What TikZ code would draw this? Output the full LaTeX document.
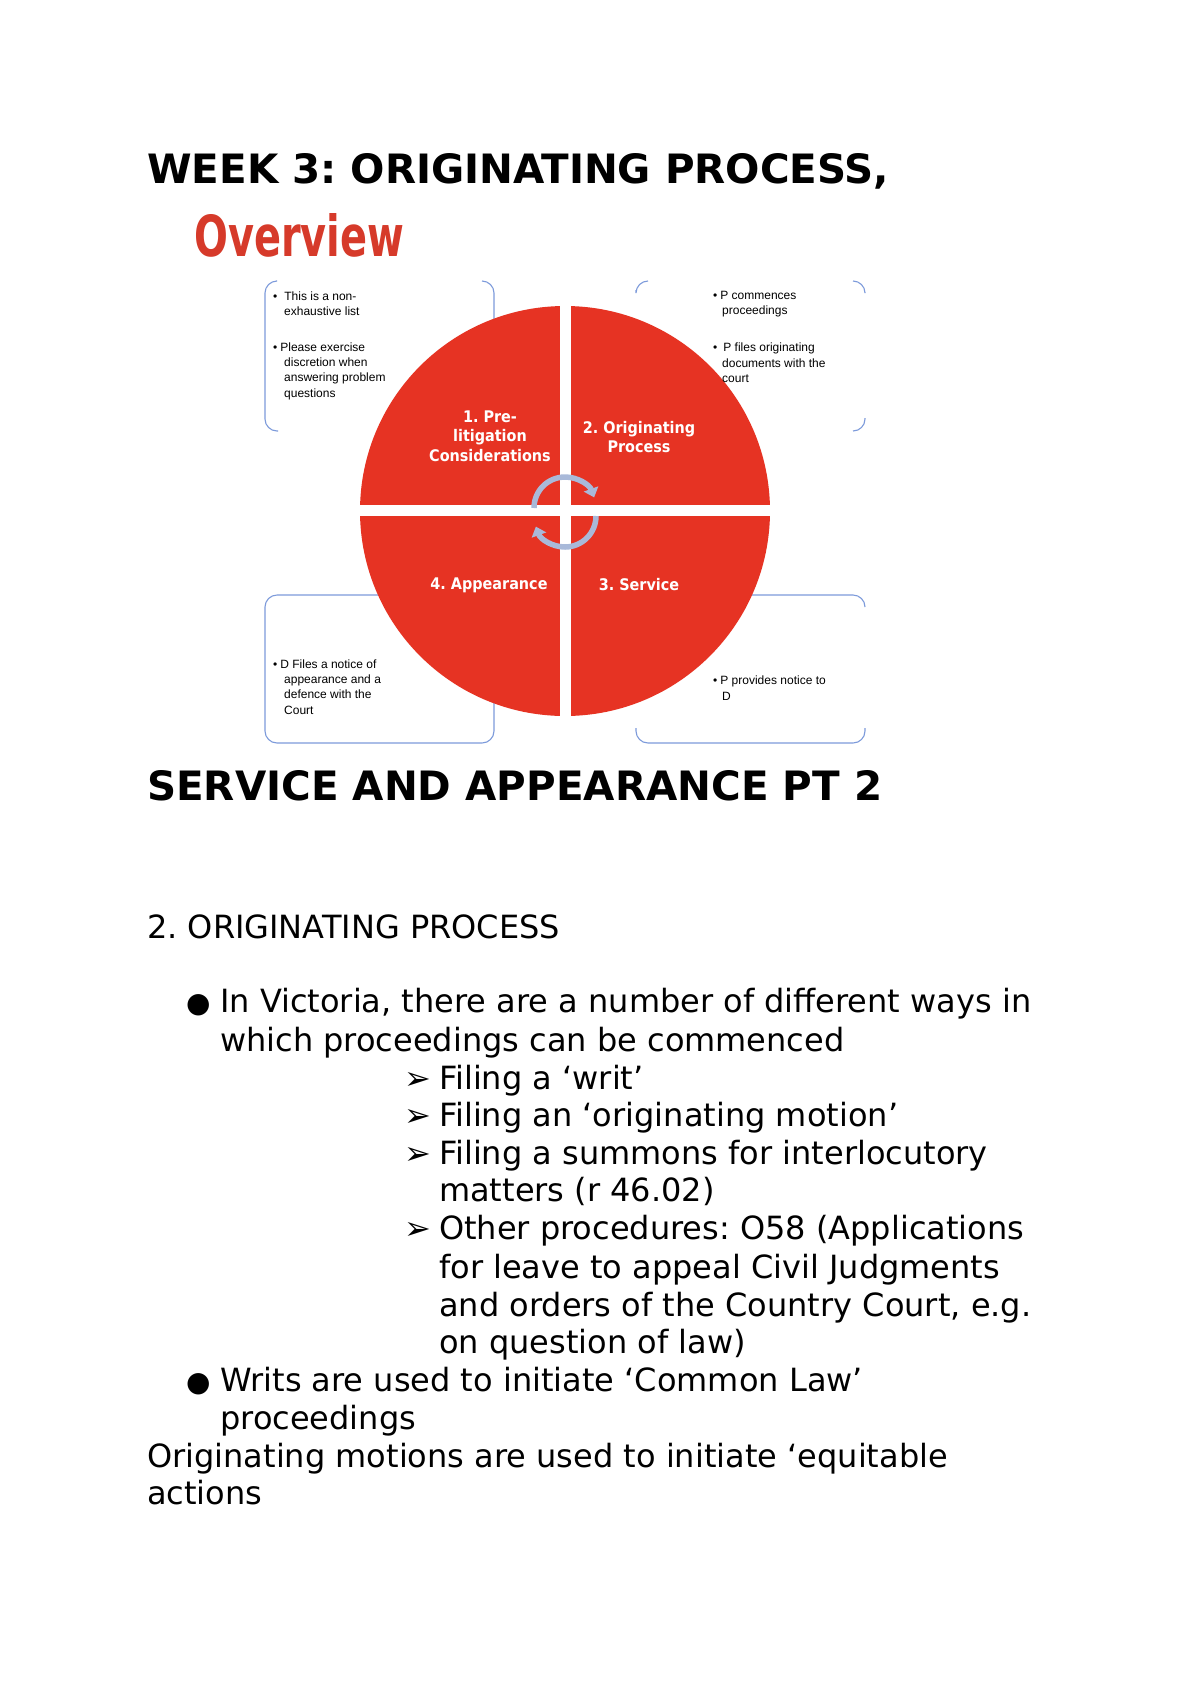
\documentclass[tikz,border=0pt]{standalone}
\usepackage{fontspec}
\setmainfont{DejaVu Sans}
\newfontfamily\condb{DejaVu Sans Condensed}[BoldFont={DejaVu Sans Condensed Bold}]
\newfontfamily\smallsans{Liberation Sans}
\usetikzlibrary{arrows.meta}
\definecolor{segred}{HTML}{E63323}
\definecolor{ovred}{HTML}{D63A2A}
\definecolor{boxblue}{HTML}{7D9BDB}
\definecolor{arrblue}{HTML}{A9B9D9}
\frenchspacing
\tikzset{
  body/.style={anchor=base west,inner sep=0pt,font=\fontsize{32}{37}\selectfont},
  boxtxt/.style={anchor=west,inner sep=0pt,font=\smallsans\fontsize{12}{15.3}\selectfont,align=left},
  seglbl/.style={inner sep=0pt,text=white,font=\condb\bfseries\fontsize{16}{19.5}\selectfont,align=center},
  bline/.style={draw=boxblue,line width=1.1pt},
  cyc/.style={draw=arrblue,line width=5.5pt,-{Triangle[length=9pt,width=15pt]}}
}
\begin{document}
\begin{tikzpicture}[x=1pt,y=-1pt]
\useasboundingbox (0,0) rectangle (1200,1698);
\fill[white] (0,0) rectangle (1200,1698);
% titles
\node[anchor=base west,inner sep=0pt] (t1) at (147,183) {\resizebox{742pt}{!}{\bfseries WEEK 3: ORIGINATING PROCESS,}};
\node[anchor=base west,inner sep=0pt,text=ovred] (ov) at (194,256) {\resizebox{210pt}{43pt}{\condb\bfseries Overview}};
% boxes
\draw[bline,rounded corners=12pt] (276,281) -- (265,281) -- (265,431) -- (278,431);
\draw[bline,rounded corners=12pt] (482,281) -- (494,281) -- (494,340);
\draw[bline,rounded corners=12pt] (648,281) -- (636,281) -- (636,290);
\draw[bline,rounded corners=12pt] (853,281) -- (865,281) -- (865,292);
\draw[bline,rounded corners=12pt] (865,418) -- (865,431) -- (853,431);
\draw[bline,rounded corners=12pt] (420,595) -- (265,595) -- (265,743) -- (494,743) -- (494,690);
\draw[bline,rounded corners=12pt] (700,595) -- (865,595) -- (865,607);
\draw[bline,rounded corners=12pt] (865,728) -- (865,743) -- (636,743) -- (636,728);
% circle quadrants
\begin{scope}
\clip (565,511) circle [radius=205];
\fill[segred] (300,250) rectangle (560,505);
\fill[segred] (571,250) rectangle (830,505);
\fill[segred] (300,516) rectangle (560,780);
\fill[segred] (571,516) rectangle (830,780);
\end{scope}
% cycle arrows
\coordinate (ca) at (534,508);
\coordinate (cb) at (596,516);
\draw[cyc] (ca) arc[start angle=180,end angle=340,radius=31];
\draw[cyc] (cb) arc[start angle=0,end angle=160,radius=31];
% segment labels
\node[seglbl] (s1) at (490,436) {1. Pre-\\litigation\\Considerations};
\node[seglbl] (s2) at (639,437) {2. Originating\\Process};
\node[seglbl] (s4) at (489,585) {4. Appearance};
\node[seglbl] (s3) at (639,585) {3. Service};
% box texts
\node[boxtxt] (b1a) at (273,304) {•\hspace{7pt}This is a non-\\\hspace{11pt}exhaustive list};
\node[boxtxt] (b1b) at (273,371) {•\hspace{3pt}Please exercise\\\hspace{11pt}discretion when\\\hspace{11pt}answering problem\\\hspace{11pt}questions};
\node[boxtxt] (b2a) at (713,304) {•\hspace{3pt}P commences\\\hspace{9pt}proceedings};
\node[boxtxt] (b2b) at (713,363) {•\hspace{6pt}P files originating\\\hspace{9pt}documents with the\\\hspace{9pt}court};
\node[boxtxt] (b4) at (273,687) {•\hspace{3pt}D Files a notice of\\\hspace{11pt}appearance and a\\\hspace{11pt}defence with the\\\hspace{11pt}Court};
\node[boxtxt] (b3) at (713,688) {•\hspace{3pt}P provides notice to\\\hspace{9pt}D};
% body text
\node[anchor=base west,inner sep=0pt] (t2) at (147,800) {\resizebox{735pt}{!}{\bfseries SERVICE AND APPEARANCE PT 2}};
\node[body] (h2) at (147,938) {2. ORIGINATING PROCESS};
\node[body] (d1) at (186,1012) {\fontsize{28}{30}\selectfont ●};
\node[body] (l1) at (220,1012) {In Victoria, there are a number of different ways in};
\node[body] (l2) at (220,1051) {which proceedings can be commenced};
\node[body] (a1) at (404,1089) {➢};
\node[body] (l3) at (439,1089) {Filing a ‘writ’};
\node[body] (a2) at (404,1126) {➢};
\node[body] (l4) at (439,1126) {Filing an ‘originating motion’};
\node[body] (a3) at (404,1164) {➢};
\node[body] (l5) at (439,1164) {Filing a summons for interlocutory};
\node[body] (l6) at (439,1201) {matters (r 46.02)};
\node[body] (a4) at (404,1239) {➢};
\node[body] (l7) at (439,1239) {Other procedures: O58 (Applications};
\node[body] (l8) at (439,1278) {for leave to appeal Civil Judgments};
\node[body] (l9) at (439,1316) {and orders of the Country Court, e.g.};
\node[body] (l10) at (439,1353) {on question of law)};
\node[body] (d2) at (186,1391) {\fontsize{28}{30}\selectfont ●};
\node[body] (l11) at (220,1391) {Writs are used to initiate ‘Common Law’};
\node[body] (l12) at (220,1429) {proceedings};
\node[body] (l13) at (147,1467) {Originating motions are used to initiate ‘equitable};
\node[body] (l14) at (147,1504) {actions};
\end{tikzpicture}
\end{document}
